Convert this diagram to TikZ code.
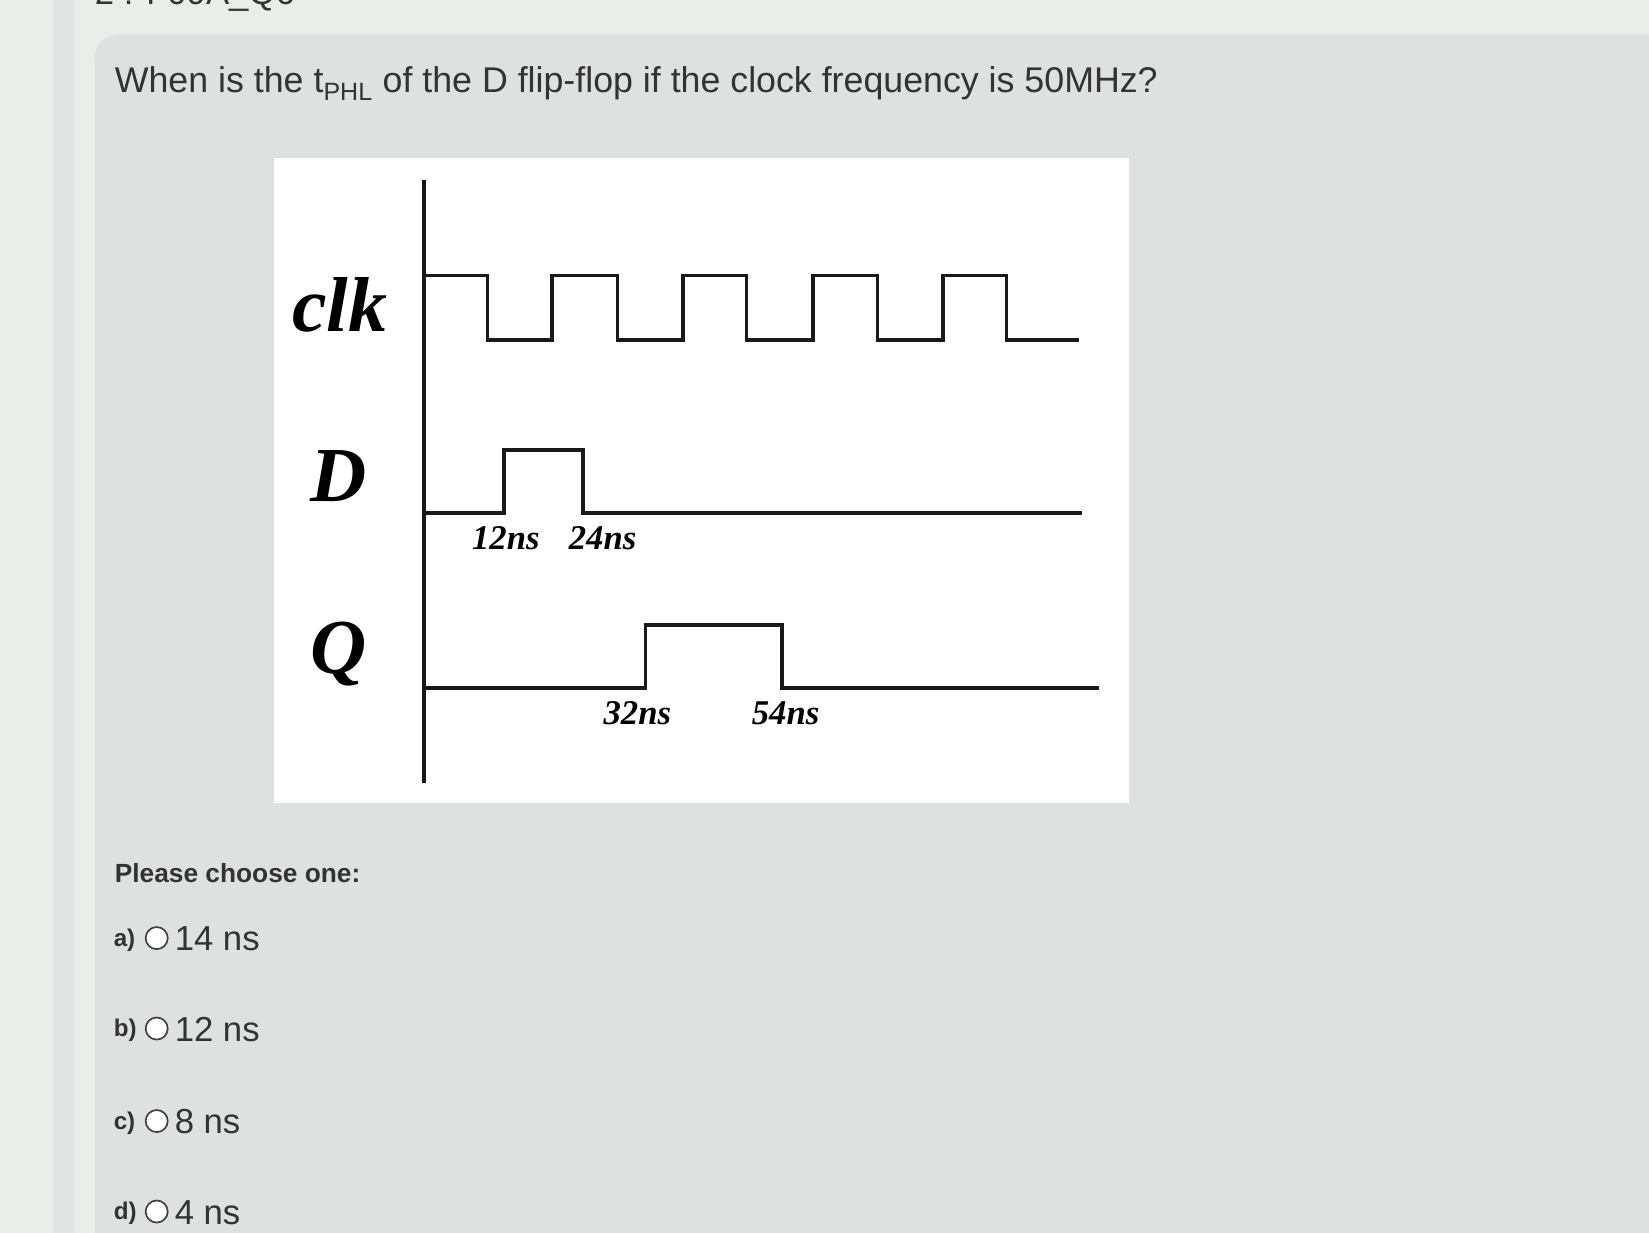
\documentclass[tikz,border=0pt]{standalone}
\usepackage{fontspec}
\setmainfont{Liberation Sans}
\newfontfamily\tnr{Liberation Serif}
\definecolor{outerbg}{HTML}{EBEDEB}
\definecolor{stripbg}{HTML}{E3E5E4}
\definecolor{cardbg}{HTML}{DFE1E0}
\begin{document}
\begin{tikzpicture}[x=1pt,y=-1pt,
  wave/.style={line width=3.5pt,line join=miter,black!90},
  sig/.style={font=\tnr\bfseries\itshape\fontsize{74}{74}\selectfont},
  tm/.style={font=\tnr\bfseries\itshape\fontsize{33}{33}\selectfont,inner sep=0pt},
  opt/.style={anchor=base west,inner sep=0pt,font=\fontsize{33}{33}\selectfont,text=black!80},
  lab/.style={anchor=base west,inner sep=0pt,font=\bfseries\fontsize{23}{23}\selectfont,text=black!80},
  radio/.style={circle,draw=black!75,line width=1.6pt,fill=white,minimum size=21pt,inner sep=0pt}]
\useasboundingbox (0,0) rectangle (1568,1172);
\fill[outerbg] (0,0) rectangle (1568,1172);
\fill[stripbg] (50,0) rectangle (70,1172);
\fill[cardbg,rounded corners=22pt] (90,33) rectangle (1600,1200);
\node[anchor=base west,inner sep=0pt,font=\fontsize{33}{33}\selectfont,text=black!80] (hdr) at (90,4) {2 : F09A\_Q6};
\node[anchor=base west,inner sep=0pt,font=\fontsize{34}{34}\selectfont,text=black!80] (q) at (109,88) {When is the t\textsubscript{PHL} of the D flip-flop if the clock frequency is 50MHz?};
\fill[white] (261,150) rectangle (1074,764);
\draw[wave] (403,170.7) -- (403,745);
\draw[wave] (403,262) -- (463.4,262) -- (463.4,323) -- (524.8,323) -- (524.8,262) -- (587.2,262) -- (587.2,323) -- (649.2,323) -- (649.2,262) -- (709.9,262) -- (709.9,323) -- (773,323) -- (773,262) -- (834.3,262) -- (834.3,323) -- (896.8,323) -- (896.8,262) -- (957,262) -- (957,323) -- (1026.4,323);
\draw[wave] (403,488) -- (479.4,488) -- (479.4,428) -- (554.2,428) -- (554.2,488) -- (1029,488);
\draw[wave] (403,654) -- (613.9,654) -- (613.9,594) -- (743.6,594) -- (743.6,654) -- (1045,654);
\node[sig] (clk) at (323,290) {clk};
\node[sig] (d) at (322,453) {D};
\node[sig] (qq) at (322,622) {Q};
\node[tm] (t12) at (481,512) {12ns};
\node[tm] (t24) at (573,512) {24ns};
\node[tm] (t32) at (606,678) {32ns};
\node[tm] (t54) at (747,678) {54ns};
\node[anchor=base west,inner sep=0pt,font=\bfseries\fontsize{25}{25}\selectfont,text=black!80] (pc) at (109,839) {Please choose one:};
\foreach \l/\t/\y in {a/14 ns/904, b/12 ns/990, c/8 ns/1078, d/4 ns/1164}{
  \node[lab] (l\l) at (108,\y-4) {\l)};
  \node[radio] (r\l) at (149,\y-12) {};
  \node[opt] (o\l) at (166,\y) {\t};
}
\end{tikzpicture}
\end{document}
